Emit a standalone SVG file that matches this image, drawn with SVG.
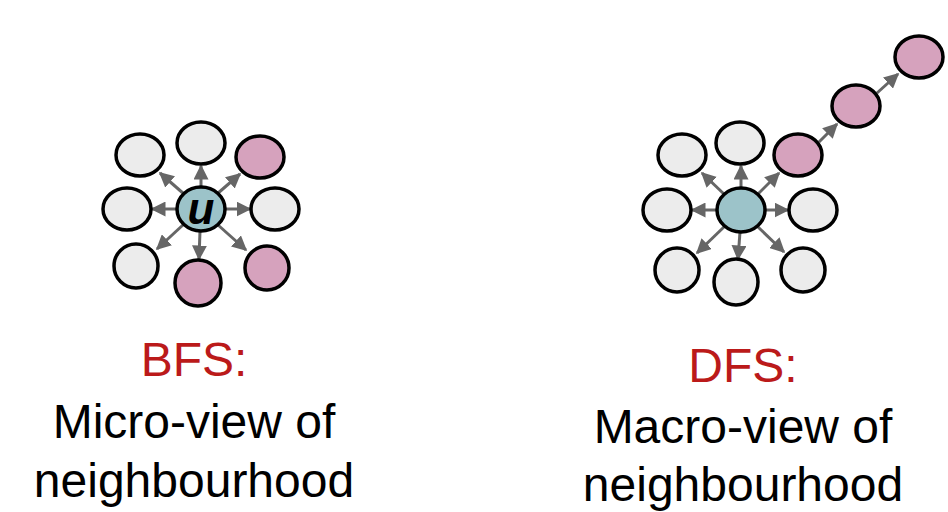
<svg xmlns="http://www.w3.org/2000/svg" width="948" height="512" viewBox="0 0 948 512">
<style>
.n{stroke:#000;stroke-width:3.5}
.g{fill:#ececec}.p{fill:#d6a2bd}.c{fill:#9cc3c9}
.e line{stroke:#666;stroke-width:3;marker-end:url(#a)}
text{font-family:"Liberation Sans",Arial,sans-serif;font-size:48px;text-anchor:middle;fill:#000}
.r{fill:#bb1a1a}
</style>
<defs><marker id="a" viewBox="0 0 10 10" refX="9" refY="5" markerWidth="5" markerHeight="5" orient="auto" markerUnits="strokeWidth"><path d="M0,0L10,5L0,10z" fill="#666"/></marker></defs>
<g id="edges" class="e">
<line x1="184" y1="194" x2="160" y2="173"/>
<line x1="201" y1="187" x2="201" y2="166"/>
<line x1="217" y1="194" x2="240" y2="174"/>
<line x1="177" y1="209" x2="152" y2="209"/>
<line x1="225" y1="209" x2="250" y2="209"/>
<line x1="184" y1="224" x2="157" y2="249"/>
<line x1="200" y1="231" x2="199" y2="259"/>
<line x1="218" y1="225" x2="246" y2="250"/>
<line x1="725" y1="195" x2="702" y2="173"/>
<line x1="741" y1="188" x2="741" y2="166"/>
<line x1="757" y1="195" x2="779" y2="173"/>
<line x1="717" y1="210" x2="692" y2="210"/>
<line x1="765" y1="210" x2="788" y2="210"/>
<line x1="725" y1="226" x2="697" y2="253"/>
<line x1="740" y1="232" x2="738" y2="259"/>
<line x1="757" y1="226" x2="784" y2="252"/>
<line x1="819" y1="142" x2="837" y2="124"/>
<line x1="877" y1="93" x2="898" y2="74"/>
</g>
<g id="bfs-u"><ellipse class="n c" cx="201" cy="209" rx="24" ry="22"/><text x="201" y="224" style="font-style:italic;font-weight:bold;font-size:44px">u</text></g>
<g id="bfs-tl"><ellipse class="n g" cx="140" cy="155" rx="24" ry="21"/></g>
<g id="bfs-t"><ellipse class="n g" cx="201" cy="143" rx="24" ry="21"/></g>
<g id="bfs-tr"><ellipse class="n p" cx="260" cy="157" rx="24" ry="21"/></g>
<g id="bfs-l"><ellipse class="n g" cx="127" cy="209" rx="24" ry="21"/></g>
<g id="bfs-r"><ellipse class="n g" cx="275" cy="209" rx="24" ry="21"/></g>
<g id="bfs-bl"><ellipse class="n g" cx="136" cy="266" rx="22" ry="22"/></g>
<g id="bfs-b"><ellipse class="n p" cx="198" cy="283" rx="23" ry="23"/></g>
<g id="bfs-br"><ellipse class="n p" cx="267" cy="268" rx="22" ry="22"/></g>
<g id="dfs-c"><ellipse class="n c" cx="741" cy="210" rx="24" ry="22"/></g>
<g id="dfs-tl"><ellipse class="n g" cx="682" cy="155" rx="24" ry="21"/></g>
<g id="dfs-t"><ellipse class="n g" cx="740" cy="143" rx="24" ry="21"/></g>
<g id="dfs-p1"><ellipse class="n p" cx="798" cy="155" rx="24" ry="21"/></g>
<g id="dfs-p2"><ellipse class="n p" cx="856" cy="106" rx="24" ry="21"/></g>
<g id="dfs-p3"><ellipse class="n p" cx="919" cy="57" rx="24" ry="21"/></g>
<g id="dfs-l"><ellipse class="n g" cx="667" cy="210" rx="24" ry="21"/></g>
<g id="dfs-r"><ellipse class="n g" cx="813" cy="210" rx="24" ry="21"/></g>
<g id="dfs-bl"><ellipse class="n g" cx="677" cy="270" rx="22" ry="22"/></g>
<g id="dfs-b"><ellipse class="n g" cx="736" cy="282" rx="22" ry="23"/></g>
<g id="dfs-br"><ellipse class="n g" cx="803" cy="270" rx="22" ry="22"/></g>
<g id="labels">
<text class="r" x="194" y="376">BFS:</text>
<text x="194" y="438">Micro-view of</text>
<text x="194" y="497">neighbourhood</text>
<text class="r" x="743" y="382">DFS:</text>
<text x="743" y="443">Macro-view of</text>
<text x="743" y="501">neighbourhood</text>
</g>
</svg>
